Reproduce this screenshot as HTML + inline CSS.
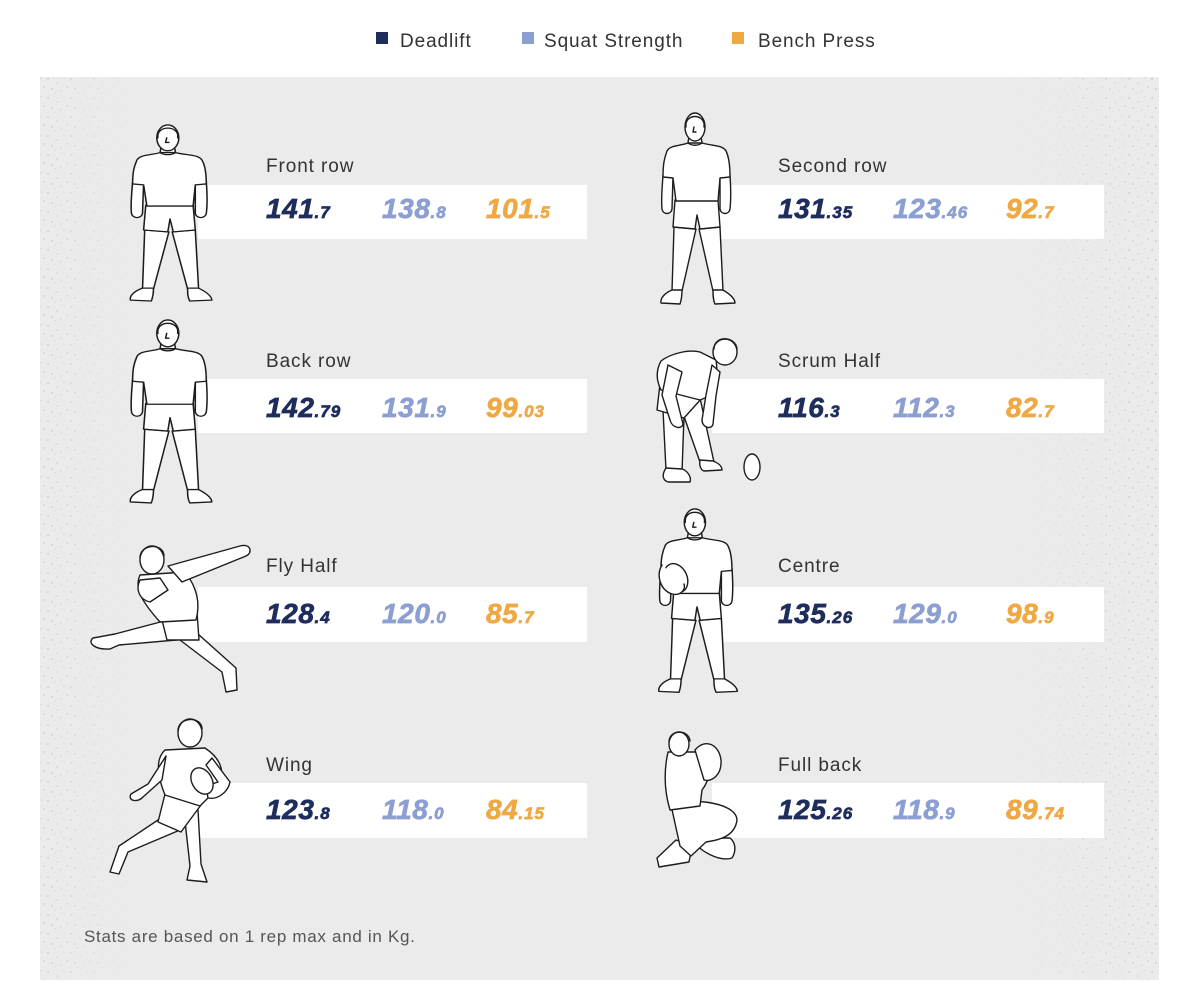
<!DOCTYPE html>
<html>
<head>
<meta charset="utf-8">
<style>
  html,body{margin:0;padding:0;background:#fff;}
  svg{display:block;}
  .lbl{font-family:"Liberation Sans",sans-serif;font-size:19px;fill:#333;letter-spacing:0.9px;}
  .num{font-family:"Liberation Sans",sans-serif;font-weight:bold;font-style:italic;font-size:28px;letter-spacing:0.6px;stroke-width:0.7px;}
  .dec{font-size:17px;letter-spacing:1px;}
  .d{fill:#1e2d5c;stroke:#1e2d5c;}
  .s{fill:#8c9fd2;stroke:#8c9fd2;}
  .b{fill:#efa944;stroke:#efa944;}
  .fig path,.fig ellipse{fill:#fff;stroke:#1c1c1c;stroke-width:1.4;stroke-linejoin:round;stroke-linecap:round;}
  .ln{fill:none !important;}
</style>
</head>
<body>
<svg width="1200" height="993" viewBox="0 0 1200 993" xmlns="http://www.w3.org/2000/svg">
  <defs>
    <pattern id="dots" width="23" height="19" patternUnits="userSpaceOnUse">
      <circle cx="2" cy="3" r="0.7" fill="#b0b0b0"/>
      <circle cx="11" cy="7" r="0.6" fill="#bababa"/>
      <circle cx="18" cy="2" r="0.5" fill="#b5b5b5"/>
      <circle cx="6" cy="13" r="0.7" fill="#b4b4b4"/>
      <circle cx="15" cy="15" r="0.6" fill="#bcbcbc"/>
      <circle cx="21" cy="11" r="0.6" fill="#b1b1b1"/>
      <circle cx="9" cy="17" r="0.5" fill="#b8b8b8"/>
    </pattern>
    <linearGradient id="edgeg" x1="0" y1="0" x2="1" y2="0">
      <stop offset="0" stop-color="#fff" stop-opacity="1"/>
      <stop offset="0.09" stop-color="#fff" stop-opacity="0"/>
      <stop offset="0.86" stop-color="#fff" stop-opacity="0"/>
      <stop offset="1" stop-color="#fff" stop-opacity="1"/>
    </linearGradient>
    <mask id="edgem">
      <rect x="40" y="77" width="1119" height="903" fill="url(#edgeg)"/>
    </mask>
    <g id="stand" class="fig">
      <path d="M34,122 L32,186 L42,186 L56,124 Z"/>
      <path d="M59,124 L73,186 L83,186 L80,122 Z"/>
      <path d="M32,185 C25,188 20,193 21,198 L40,199 C42,193 42,189 42,185 Z"/>
      <path d="M73,185 C73,190 73,195 75,199 L95,198 C95,193 88,188 83,185 Z"/>
      <path d="M35,95 L33,122 L55,124 L57,110 L60,124 L80,122 L78,95 Z"/>
      <path d="M23,70 C22,85 21,95 22,104 C23,110 31,110 32,104 L33,71 Z"/>
      <path d="M90,70 C91,85 91,95 90,104 C89,110 81,110 80,104 L80,71 Z"/>
      <path d="M48,38 C40,41 30,40 27,46 C24,54 23,60 23,72 L33,73 L36,96 L78,96 L80,73 L90,72 C90,60 89,52 86,46 C83,40 72,41 62,38 C58,41 52,41 48,38 Z"/>
      <path d="M49,31 L48,38 L62,38 L61,31 Z"/>
      <ellipse cx="55" cy="22" rx="10" ry="14"/>
      <path class="ln" d="M46,22 C44,8 66,8 64,22"/>
      <path class="ln" d="M54,22 L53,27 L56,27"/>
    </g>
  </defs>

  <!-- Legend -->
  <rect x="376" y="32" width="12" height="12" fill="#1e2d5c"/>
  <text x="400" y="47" class="lbl">Deadlift</text>
  <rect x="522" y="32" width="12" height="12" fill="#8c9fd2"/>
  <text x="544" y="47" class="lbl">Squat Strength</text>
  <rect x="732" y="32" width="12" height="12" fill="#efa944"/>
  <text x="758" y="47" class="lbl">Bench Press</text>

  <!-- Panel -->
  <rect x="40" y="77" width="1119" height="903" fill="#ebebeb"/>
  <rect x="40" y="77" width="1119" height="903" fill="url(#dots)" mask="url(#edgem)"/>

  <!-- Strips -->
  <rect x="198" y="185" width="389" height="54" fill="#fff"/>
  <rect x="198" y="379" width="389" height="54" fill="#fff"/>
  <rect x="198" y="587" width="389" height="55" fill="#fff"/>
  <rect x="198" y="783" width="389" height="55" fill="#fff"/>
  <rect x="712" y="185" width="392" height="54" fill="#fff"/>
  <rect x="712" y="379" width="392" height="54" fill="#fff"/>
  <rect x="712" y="587" width="392" height="55" fill="#fff"/>
  <rect x="712" y="783" width="392" height="55" fill="#fff"/>

  <!-- Figures -->
  <use href="#stand" transform="translate(170,124) scale(1.1,0.922) translate(-57,-7)"/>
  <use href="#stand" transform="translate(170,319) scale(1.1,0.958) translate(-57,-7)"/>
  <use href="#stand" transform="translate(640,105)"/>
  <use href="#stand" transform="translate(697,508) scale(1.06,0.96) translate(-57,-7)"/>

  <!-- Centre ball + arm -->
  <g class="fig">
    <ellipse cx="676" cy="578" rx="11" ry="15" transform="rotate(-25 676 578)"/>
    <path d="M662,565 C656,575 660,590 672,594 C680,596 686,590 684,584"/>
  </g>

  <!-- Scrum half -->
  <g class="fig">
    <path d="M663,410 L666,470 L682,472 L684,416 Z"/>
    <path d="M680,405 L700,462 L714,462 L700,398 Z"/>
    <path d="M666,468 C662,474 662,480 668,482 L690,482 C692,476 686,470 682,469 Z"/>
    <path d="M700,460 C699,466 701,470 704,471 L722,470 C722,465 716,462 713,461 Z"/>
    <path d="M660,384 L657,410 L684,418 L702,398 Z"/>
    <path d="M700,352 C688,349 670,354 661,361 C655,372 657,382 661,390 L700,400 L712,395 C716,385 718,372 716,360 Z"/>
    <path d="M668,365 L662,395 L670,420 C672,428 682,430 683,424 L676,396 L682,372 Z"/>
    <path d="M712,365 L706,395 L702,420 C702,428 712,430 713,424 L716,396 L720,372 Z"/>
    <ellipse cx="725" cy="352" rx="12" ry="13"/>
    <path class="ln" d="M714,349 C714,335 736,336 737,349"/>
    <ellipse cx="752" cy="467" rx="8" ry="13"/>
  </g>

  <!-- Fly half -->
  <g class="fig">
    <path d="M180,640 L222,672 L226,692 L237,690 L236,668 L198,634 Z"/>
    <path d="M168,620 L115,634 L93,638 C87,643 95,650 110,649 L119,645 L176,640 Z"/>
    <path d="M160,612 L167,640 L199,640 L197,612 Z"/>
    <path d="M140,575 C134,588 142,602 160,622 L196,620 C201,602 196,586 185,572 Z"/>
    <path d="M168,566 L240,546 C251,543 253,553 246,556 L182,582 Z"/>
    <path d="M140,580 C135,590 140,600 150,602 L168,590 L160,578 Z"/>
    <ellipse cx="152" cy="560" rx="12" ry="14"/>
    <path class="ln" d="M140,558 C140,543 164,543 164,556"/>
  </g>

  <!-- Wing -->
  <g class="fig">
    <path d="M161,818 L119,846 L110,872 L119,874 L128,852 L180,830 Z"/>
    <path d="M184,812 L190,866 L187,880 L207,882 L201,864 L198,810 Z"/>
    <path d="M166,790 L158,822 L181,832 L201,805 Z"/>
    <path d="M165,750 C154,760 159,780 165,795 L200,806 L216,790 C226,775 223,760 205,748 Z"/>
    <path d="M166,756 L148,784 L131,794 C127,801 138,803 143,797 L162,780 Z"/>
    <path d="M212,758 L230,782 C228,792 218,800 208,798 L206,786 L218,782 L206,765 Z"/>
    <ellipse cx="202" cy="781" rx="10" ry="14" transform="rotate(-30 202 781)"/>
    <ellipse cx="190" cy="733" rx="12" ry="14"/>
    <path class="ln" d="M178,731 C178,716 202,716 202,729"/>
  </g>

  <!-- Full back -->
  <g class="fig">
    <path d="M676,840 L657,858 L659,867 L689,862 L692,846 Z"/>
    <path d="M690,838 C700,852 720,862 732,858 C737,850 735,842 730,838 Z"/>
    <path d="M671,805 C682,798 736,800 737,820 C735,836 720,840 706,842 L691,856 L680,846 Z"/>
    <path d="M668,752 C664,770 664,790 670,810 L700,806 L702,790 C710,780 712,765 705,752 Z"/>
    <path d="M695,750 C705,738 719,744 721,760 C722,775 712,782 704,780 Z"/>
    <ellipse cx="679" cy="744" rx="10" ry="12"/>
    <path class="ln" d="M669,742 C669,729 689,729 690,741"/>
  </g>

  <!-- Labels -->
  <text x="266" y="172" class="lbl">Front row</text>
  <text x="778" y="172" class="lbl">Second row</text>
  <text x="266" y="367" class="lbl">Back row</text>
  <text x="778" y="367" class="lbl">Scrum Half</text>
  <text x="266" y="572" class="lbl">Fly Half</text>
  <text x="778" y="572" class="lbl">Centre</text>
  <text x="266" y="771" class="lbl">Wing</text>
  <text x="778" y="771" class="lbl">Full back</text>

  <!-- Row 1 -->
  <text x="266" y="218" class="num d">141<tspan class="dec">.7</tspan></text>
  <text x="382" y="218" class="num s">138<tspan class="dec">.8</tspan></text>
  <text x="486" y="218" class="num b">101<tspan class="dec">.5</tspan></text>
  <text x="778" y="218" class="num d">131<tspan class="dec">.35</tspan></text>
  <text x="893" y="218" class="num s">123<tspan class="dec">.46</tspan></text>
  <text x="1006" y="218" class="num b">92<tspan class="dec">.7</tspan></text>

  <!-- Row 2 -->
  <text x="266" y="417" class="num d">142<tspan class="dec">.79</tspan></text>
  <text x="382" y="417" class="num s">131<tspan class="dec">.9</tspan></text>
  <text x="486" y="417" class="num b">99<tspan class="dec">.03</tspan></text>
  <text x="778" y="417" class="num d">116<tspan class="dec">.3</tspan></text>
  <text x="893" y="417" class="num s">112<tspan class="dec">.3</tspan></text>
  <text x="1006" y="417" class="num b">82<tspan class="dec">.7</tspan></text>

  <!-- Row 3 -->
  <text x="266" y="623" class="num d">128<tspan class="dec">.4</tspan></text>
  <text x="382" y="623" class="num s">120<tspan class="dec">.0</tspan></text>
  <text x="486" y="623" class="num b">85<tspan class="dec">.7</tspan></text>
  <text x="778" y="623" class="num d">135<tspan class="dec">.26</tspan></text>
  <text x="893" y="623" class="num s">129<tspan class="dec">.0</tspan></text>
  <text x="1006" y="623" class="num b">98<tspan class="dec">.9</tspan></text>

  <!-- Row 4 -->
  <text x="266" y="819" class="num d">123<tspan class="dec">.8</tspan></text>
  <text x="382" y="819" class="num s">118<tspan class="dec">.0</tspan></text>
  <text x="486" y="819" class="num b">84<tspan class="dec">.15</tspan></text>
  <text x="778" y="819" class="num d">125<tspan class="dec">.26</tspan></text>
  <text x="893" y="819" class="num s">118<tspan class="dec">.9</tspan></text>
  <text x="1006" y="819" class="num b">89<tspan class="dec">.74</tspan></text>

  <!-- Footer -->
  <text x="84" y="942" font-family="Liberation Sans, sans-serif" font-size="17" fill="#555" letter-spacing="0.7">Stats are based on 1 rep max and in Kg.</text>
</svg>
</body>
</html>
